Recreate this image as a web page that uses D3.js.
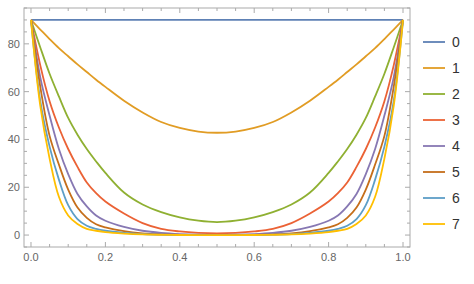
<!DOCTYPE html>
<html lang="en">
<head>
<meta charset="UTF-8">
<title>Curves</title>
<script src="https://cdn.jsdelivr.net/npm/d3@7"></script>
<style>
  body { margin: 0; background: #fff; }
  .tick-label { font-family: "Liberation Sans", Arial, sans-serif; font-size: 11px; fill: #666; }
  .legend-label { font-family: "Liberation Sans", Arial, sans-serif; font-size: 14px; fill: #333; }
</style>
</head>
<body>
<svg width="474" height="284"></svg>
<script>
// x positions where the curves were read
const xs = [0, 0.025, 0.05, 0.075, 0.1, 0.125, 0.15, 0.175, 0.2, 0.25, 0.3, 0.35, 0.4, 0.45, 0.5,
            0.55, 0.6, 0.65, 0.7, 0.75, 0.8, 0.825, 0.85, 0.875, 0.9, 0.925, 0.95, 0.975, 1];

const s0 = [90, 90, 90, 90, 90, 90, 90, 90, 90, 90, 90, 90, 90, 90, 90,
            90, 90, 90, 90, 90, 90, 90, 90, 90, 90, 90, 90, 90, 90];
const s1 = [90, 86, 82, 78.2, 74.8, 71.4, 68.2, 65, 62, 56.2, 51.3, 47.3, 44.8, 43.3, 42.8,
            43.3, 44.8, 47.3, 51.3, 56.2, 62, 65, 68.2, 71.4, 74.8, 78.2, 82, 86, 90];
const s2 = [90, 78.5, 67.5, 58, 49, 42, 36, 30.8, 26, 17.8, 12.8, 9.6, 7.4, 6.0, 5.4,
            6.0, 7.4, 9.6, 12.8, 17.8, 26, 30.8, 36, 42, 49, 58, 67.5, 78.5, 90];
const s3 = [90, 71, 56, 45, 36, 28.5, 22, 17.5, 14, 9, 5.0, 2.6, 1.5, 0.9, 0.7,
            0.9, 1.5, 2.6, 5.0, 9, 14, 17.5, 22, 28.5, 36, 45, 56, 71, 90];
const s4 = [90, 66, 50, 36, 25.5, 17.2, 12, 8.2, 6.0, 3.4, 1.8, 0.9, 0.4, 0.15, 0.1,
            0.15, 0.4, 0.9, 1.8, 3.4, 6.0, 8.2, 12, 17.2, 25.5, 36, 50, 66, 90];
const s5 = [90, 62, 41.5, 29.5, 19, 11.5, 7.2, 4.5, 3.2, 1.6, 0.7, 0.3, 0.1, 0.05, 0,
            0.05, 0.1, 0.3, 0.7, 1.6, 3.2, 4.5, 7.2, 11.5, 19, 29.5, 41.5, 62, 90];
const s6 = [90, 56, 37, 23.2, 12.5, 6.7, 3.9, 2.6, 1.8, 0.9, 0.4, 0.15, 0.05, 0, 0,
            0, 0.05, 0.15, 0.4, 0.9, 1.8, 2.6, 3.9, 6.7, 12.5, 23.2, 37, 56, 90];
const s7 = [90, 54, 32, 16, 8.2, 4.6, 2.6, 1.8, 1.2, 0.6, 0.25, 0.1, 0.03, 0, 0,
            0, 0.03, 0.1, 0.25, 0.6, 1.2, 1.8, 2.6, 4.6, 8.2, 16, 32, 54, 90];

const seriesNames = ["0", "1", "2", "3", "4", "5", "6", "7"];
const seriesValues = [s0, s1, s2, s3, s4, s5, s6, s7];
const colors = ["#5E81B5", "#E19C24", "#8FB032", "#EB6235", "#8778B3", "#C56E1A", "#5D9EC7", "#FFBF00"];

const xMajor = [0, 0.2, 0.4, 0.6, 0.8, 1.0];
const yMajor = [0, 20, 40, 60, 80];

const svg = d3.select("svg");

// plot frame
const fLeft = 24, fRight = 410, fTop = 8, fBottom = 247;

const x = d3.scaleLinear().domain([-0.0188, 1.0188]).range([fLeft, fRight]);
const y = d3.scaleLinear().domain([-5, 95]).range([fBottom, fTop]);

const xMinor = d3.range(0, 1.0001, 0.05);
const yMinor = d3.range(-5, 95.001, 5);

// ticks (pointing inward on every side)
const frameColor = "#aaa";
const tickG = svg.append("g").attr("stroke", frameColor).attr("stroke-width", 1);

xMinor.forEach(v => {
    const major = xMajor.some(m => Math.abs(m - v) < 1e-6);
    const len = major ? 5 : 3;
    tickG.append("line").attr("x1", x(v)).attr("x2", x(v)).attr("y1", fBottom).attr("y2", fBottom - len);
    tickG.append("line").attr("x1", x(v)).attr("x2", x(v)).attr("y1", fTop).attr("y2", fTop + len);
});
yMinor.forEach(v => {
    const major = yMajor.some(m => Math.abs(m - v) < 1e-6);
    const len = major ? 5 : 3;
    tickG.append("line").attr("y1", y(v)).attr("y2", y(v)).attr("x1", fLeft).attr("x2", fLeft + len);
    tickG.append("line").attr("y1", y(v)).attr("y2", y(v)).attr("x1", fRight).attr("x2", fRight - len);
});

svg.append("rect")
    .attr("x", fLeft).attr("y", fTop)
    .attr("width", fRight - fLeft).attr("height", fBottom - fTop)
    .attr("fill", "none").attr("stroke", frameColor).attr("stroke-width", 1);

// tick labels
svg.append("g").selectAll("text").data(xMajor).enter().append("text")
    .attr("class", "tick-label")
    .attr("x", d => x(d)).attr("y", fBottom + 14)
    .attr("text-anchor", "middle")
    .text(d => d.toFixed(1));

svg.append("g").selectAll("text").data(yMajor).enter().append("text")
    .attr("class", "tick-label")
    .attr("x", fLeft - 4).attr("y", d => y(d))
    .attr("dy", "0.35em")
    .attr("text-anchor", "end")
    .text(d => d);

// curves
const line = d3.line()
    .x((d, i) => x(xs[i]))
    .y(d => y(d))
    .curve(d3.curveCatmullRom.alpha(0.5));

svg.append("g").attr("class", "curves")
    .selectAll("path")
    .data(seriesValues)
    .enter()
    .append("path")
    .attr("d", line)
    .attr("fill", "none")
    .attr("stroke", (d, i) => colors[i])
    .attr("stroke-width", 1.8)
    .attr("stroke-linejoin", "round");

// legend
const legend = svg.append("g").attr("class", "legend");
seriesNames.forEach((name, i) => {
    const ly = 42 + i * 26;
    legend.append("line")
        .attr("x1", 423).attr("x2", 445)
        .attr("y1", ly).attr("y2", ly)
        .attr("stroke", colors[i]).attr("stroke-width", 1.8);
    legend.append("text")
        .attr("class", "legend-label")
        .attr("x", 452).attr("y", ly)
        .attr("dy", "0.36em")
        .text(name);
});
</script>
</body>
</html>
